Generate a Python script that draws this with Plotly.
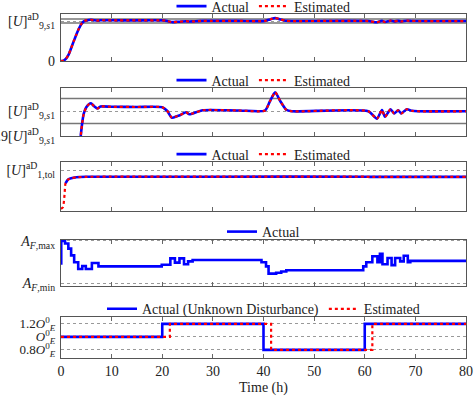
import plotly.graph_objects as go

# ---------------- data ----------------
t_u9 = [0, 0.5, 1, 1.5, 2, 2.5, 3, 3.5, 4, 4.5, 5, 5.5, 5.9, 6.5, 7.2, 7.8, 10, 15, 20,
        21, 21.9, 23, 23.5, 24.7, 25.3, 26, 28, 35, 40.3, 41.3, 42.3, 43.3, 44.5, 45.6,
        60.7, 62.4, 63.4, 64, 65.1, 65.8, 66.6, 67.2, 68.3, 69.3, 70.5, 80]
u9_actual = [0, 0.01, 0.06, 0.16, 0.32, 0.49, 0.65, 0.8, 0.92, 0.99, 1.015, 1.027, 1.031,
             1.02, 1.01, 1.018, 1.017, 1.016, 1.015, 1.0, 0.973, 0.98, 0.983, 0.995, 0.987,
             0.99, 1.003, 1.002, 1.002, 1.04, 1.075, 1.04, 1.005, 0.999, 0.999, 0.969, 1.004,
             0.977, 1.007, 0.99, 1.003, 0.99, 1.007, 1.001, 0.999, 0.999]
u9_est = list(u9_actual)
u9_band = [0.95, 1.05]

t_u1_est = [0, 0.4, 0.7, 0.9, 1.4, 2, 3, 5, 10, 30, 60, 61, 80]
u1_est = [0.05, 0.1, 0.4, 0.68, 0.77, 0.8, 0.825, 0.837, 0.84, 0.84, 0.84, 0.835, 0.835]
t_u1_act = [0.9, 1.4, 2, 3, 5, 10, 30, 60, 61, 80]
u1_act = [0.68, 0.77, 0.8, 0.825, 0.837, 0.84, 0.84, 0.84, 0.835, 0.835]

t_af = [0, 0.05, 0.8, 1.45, 2.0, 2.6, 3.4, 4.2, 4.9, 6.1, 7.4, 19.9, 20.2, 21.6, 22.5, 23.4,
        24.3, 25.1, 26, 39.6, 40.5, 41.0, 41.5, 42.5, 43.5, 44.5, 59.7, 60.3, 61.5, 62.5,
        63.0, 63.5, 64.5, 65.3, 66.0, 67.0, 67.7, 68.5, 69.0, 80]
af_actual = [0.47, 1.0, 0.94, 0.82, 0.66, 0.5, 0.34, 0.41, 0.34, 0.48, 0.4, 0.44, 0.44, 0.59,
             0.49, 0.59, 0.45, 0.52, 0.55, 0.5, 0.4, 0.23, 0.23, 0.25, 0.28, 0.31, 0.4, 0.5,
             0.64, 0.5, 0.7, 0.45, 0.6, 0.43, 0.6, 0.52, 0.65, 0.5, 0.53, 0.53]

t_oe_act = [0, 20, 40, 60, 80]
oe_actual = [1.0, 1.2, 0.8, 1.2, 1.2]
t_oe_est = [0, 21.5, 41.5, 61.5, 80]
oe_est = [1.0, 1.2, 0.8, 1.2, 1.2]

x_ticks = [0, 10, 20, 30, 40, 50, 60, 70, 80]

# ---------------- layout helpers ----------------
W, H = 474, 397
ML, MR, MT, MB = 61, 8, 14, 39
ph = H - MT - MB
panels_px = [(14, 61), (88, 136), (162, 211), (239.5, 285.7), (316.7, 358)]
def dom(tp, bt):
    return [(H - MB - bt) / ph, (H - MB - tp) / ph]
domains = [dom(*p) for p in panels_px]

FONT = "Liberation Serif, DejaVu Serif, serif"
BLUE = "#0000ff"
RED = "#ff0000"

fig = go.Figure()

def add_pair(idx, xa, ya, xe, ye, shape="linear", actual_name="Actual", est=True):
    ax = "" if idx == 1 else str(idx)
    lg = "legend" if idx == 1 else "legend%d" % idx
    extra = {"smoothing": 0.6} if shape == "spline" else {}
    fig.add_trace(go.Scatter(x=xa, y=ya, mode="lines", name=actual_name,
                             line=dict(color=BLUE, width=2.6, shape=shape, **extra),
                             xaxis="x" + ax, yaxis="y" + ax, legend=lg))
    if est:
        fig.add_trace(go.Scatter(x=xe, y=ye, mode="lines", name="Estimated",
                                 line=dict(color=RED, width=2.2, dash="dot", shape=shape, **extra),
                                 xaxis="x" + ax, yaxis="y" + ax, legend=lg))

add_pair(1, t_u9, u9_actual, t_u9, u9_est, shape="spline")
add_pair(2, t_u9, u9_actual, t_u9, u9_est, shape="spline")
add_pair(3, t_u1_act, u1_act, t_u1_est, u1_est, shape="spline")
add_pair(4, t_af, af_actual, None, None, shape="hv", est=False)
add_pair(5, t_oe_act, oe_actual, t_oe_est, oe_est, shape="hv",
         actual_name="Actual (Unknown Disturbance)")

U9 = "[<i>U</i>]<sup>aD</sup><sub>9,<i>s</i>1</sub>"
U1 = "[<i>U</i>]<sup>aD</sup><sub>1,tol</sub>"
OE = "<i>O</i><sup>0</sup><sub><i>E</i></sub>"
yspecs = [
    dict(range=[0, 1.175], tickvals=[0, 1], ticktext=["0", U9]),
    dict(range=[0.9, 1.092], tickvals=[0.9, 1.0], ticktext=["0.9" + U9, U9]),
    dict(range=[0, 1.2], tickvals=[1.0], ticktext=[U1]),
    dict(range=[-0.055, 1.035], tickvals=[0, 1],
         ticktext=["<i>A</i><sub><i>F</i>,min</sub>", "<i>A</i><sub><i>F</i>,max</sub>"]),
    dict(range=[0.675, 1.31], tickvals=[0.8, 1.0, 1.2], ticktext=["0.8" + OE, OE, "1.2" + OE]),
]

layout = dict(width=W, height=H, margin=dict(l=ML, r=MR, t=MT, b=MB, autoexpand=False),
              paper_bgcolor="white", plot_bgcolor="white",
              font=dict(family=FONT, size=14, color="#222"), showlegend=True)

for i in range(5):
    n = i + 1
    ax = "" if n == 1 else str(n)
    xa = dict(domain=[0, 1], range=[0, 80], anchor="y" + ax, tickvals=x_ticks,
              showticklabels=(n == 5), ticks="inside", ticklen=4, tickcolor="#666",
              showline=True, linecolor="#555", linewidth=1.3, mirror="allticks",
              showgrid=False, zeroline=False, tickfont=dict(family=FONT, size=14),
              ticklabeloverflow="allow")
    if n == 5:
        xa["title"] = dict(text="Time (h)", font=dict(family=FONT, size=14), standoff=4)
    else:
        xa["matches"] = "x5"
    ya = dict(domain=domains[i], anchor="x" + ax, showline=True, linecolor="#555",
              linewidth=1.3, mirror=True, ticks="", showgrid=True, gridcolor="#999",
              gridwidth=1, griddash="dot", zeroline=False,
              tickfont=dict(family=FONT, size=13 if n == 5 else 14),
              ticklabelstandoff=2, ticklabeloverflow="allow", **yspecs[i])
    layout["xaxis" + ax] = xa
    layout["yaxis" + ax] = ya
    lg = "legend" if n == 1 else "legend%d" % n
    layout[lg] = dict(orientation="h", x=0.5, xanchor="center",
                      y=domains[i][1] + 7.5 / ph, yanchor="middle",
                      bgcolor="rgba(0,0,0,0)", font=dict(family=FONT, size=14), itemwidth=30,
                      tracegroupgap=0, itemclick=False)

shapes = []
for ax in ["y", "y2"]:
    for v in u9_band:
        shapes.append(dict(type="line", xref=ax.replace("y", "x") + " domain", yref=ax,
                           x0=0, x1=1, y0=v, y1=v, line=dict(color="#777", width=1.6),
                           layer="below"))
layout["shapes"] = shapes
fig.update_layout(**layout)
fig.write_html("out.html", config={"displayModeBar": False},
               post_script="document.body.style.margin='0';document.body.style.overflow='hidden';")
